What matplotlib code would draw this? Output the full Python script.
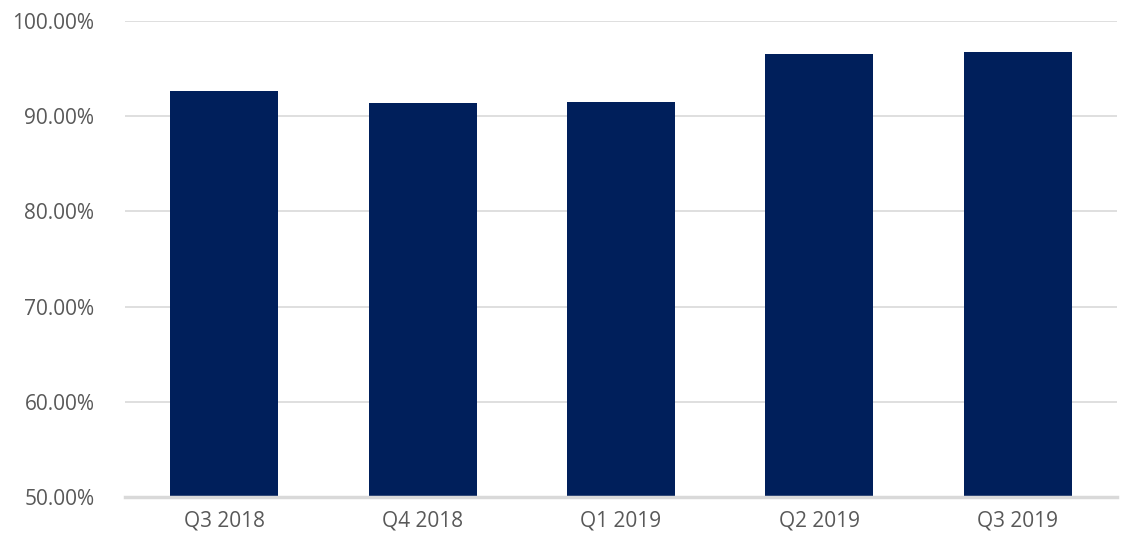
import matplotlib.pyplot as plt
from matplotlib.ticker import FuncFormatter

# data
quarters = ['Q3 2018', 'Q4 2018', 'Q1 2019', 'Q2 2019', 'Q3 2019']
rates = [92.65, 91.40, 91.50, 96.55, 96.75]
yticks = [50, 60, 70, 80, 90, 100]

plt.rcParams['font.family'] = ['Open Sans', 'DejaVu Sans']

fig = plt.figure(figsize=(11.22, 5.54), dpi=100)
ax = fig.add_axes([125 / 1122, 1 - 497 / 554, (1117 - 125) / 1122, (497 - 21) / 554])

x = range(len(quarters))
ax.bar(x, rates, width=0.545, color='#001f5b', zorder=2)

ax.set_ylim(50, 100)
ax.set_xlim(-0.5, len(quarters) - 0.5)
ax.set_yticks(yticks)
ax.yaxis.set_major_formatter(FuncFormatter(lambda v, p: f'{v:.2f}%'))
ax.set_xticks(list(x))
ax.set_xticklabels(quarters)
ax.grid(axis='y', color='#d9d9d9', linewidth=1.2, zorder=0)
ax.tick_params(axis='both', length=0, labelsize=15, colors='#595959')
ax.tick_params(axis='x', pad=10)
ax.tick_params(axis='y', pad=22)
for s in ['top', 'right', 'left']:
    ax.spines[s].set_visible(False)
ax.spines['bottom'].set_color('#d9d9d9')
ax.spines['bottom'].set_linewidth(2.5)
ax.spines['bottom'].set_zorder(3)

fig.savefig('out.png', dpi=100)
